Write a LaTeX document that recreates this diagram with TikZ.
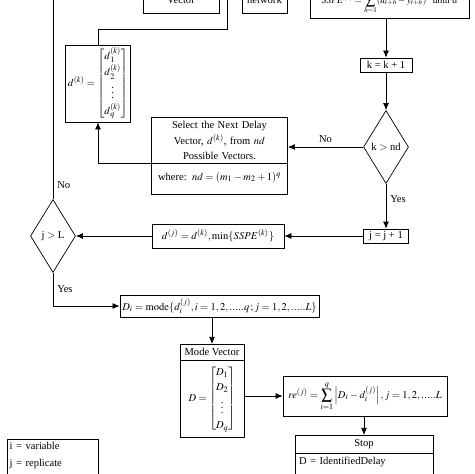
\documentclass[tikz,border=0pt]{standalone}
\usepackage{amsmath}
\usepackage{amssymb}
\usepackage{mathptmx}
\usepackage{fontspec}
\setmainfont{Liberation Serif}
\usetikzlibrary{shapes.geometric,shapes.multipart,arrows.meta}
\tikzset{
    flow-box/.style = {draw, rectangle, inner sep=2pt, align=center, font=\small},
    flow-test/.style = {draw, diamond, inner sep=0pt, minimum width=1.35cm, minimum height=2.19cm, font=\small},
    flow-split/.style = {draw, rectangle split, rectangle split parts=2, align=center, font=\small},
    flow-arrow/.style = {-{Latex[length=6pt,width=5pt]}},
}

\begin{document}
\begin{tikzpicture}[x=0.03cm, y=-0.03cm, semithick]
\useasboundingbox (0,0) rectangle (474,474);
\clip (0,0) rectangle (474,474);

% top row (cut off)
\node[flow-box, minimum width=2.28cm, text height=1cm, text depth=0.25cm, anchor=base] (vec) at (181,3) {Vector};
\node[flow-box, minimum width=1.35cm, text height=1cm, text depth=0.25cm, anchor=base] (net) at (264.5,3) {network};
\node[flow-box, minimum width=4.77cm, text height=1cm, text depth=0.4cm, anchor=base, font=\footnotesize] (sspe) at (389.5,3) {$SSPE^{(k)}=\displaystyle\sum_{h=1}^{N}(d_{t+h}-y_{t+h})^2$ until d};
\coordinate (loop-in) at (227,-5);
\coordinate (loop-back) at (53,-5);

% delay vector loop
\node[flow-box, minimum width=1.86cm, minimum height=2.07cm] (dk) at (98,83.5) {\renewcommand{\arraystretch}{1.25}$\boldsymbol{d}^{(k)}=\begin{bmatrix}\boldsymbol{d}_1^{(k)}\\ \boldsymbol{d}_2^{(k)}\\ \vdots\\ \boldsymbol{d}_q^{(k)}\end{bmatrix}$};
\node[flow-box, minimum width=1.56cm, minimum height=0.42cm] (kinc) at (386,65) {k = k + 1};
\node[flow-test] (kgt) at (386,147) {k $>$ nd};
\node[flow-split, text width=3.85cm, anchor=north] (sel) at (219.5,117) {Select the Next Delay\\[2pt] Vector, $d^{(k)}$, from $nd$\\[2pt] Possible Vectors.
    \nodepart{two}\raisebox{0pt}[0.36cm][0.3cm]{where: $nd=(m_1-m_2+1)^q$}};

% replicate loop
\node[flow-box, minimum width=1.35cm, minimum height=0.39cm] (jinc) at (386,236) {j = j + 1};
\node[flow-box, minimum width=3.96cm, minimum height=0.72cm] (djbox) at (218,236) {$d^{(j)}=d^{(k)},\min\{SSPE^{(k)}\}$};
\node[flow-test] (jgt) at (53,236) {j $>$ L};

% mode and stop
\node[flow-box, minimum width=5.91cm, minimum height=0.66cm] (Di) at (219.5,306) {$D_i=\mathrm{mode}\{d_i^{(j)}, i=1,2,.....q\,; j=1,2,.....L\}$};
\node[flow-split, minimum width=1.92cm, anchor=north] (mode) at (212,344) {Mode Vector
    \nodepart{two}\renewcommand{\arraystretch}{1.2}$D=\begin{bmatrix}D_1\\ D_2\\ \vdots\\ D_q\end{bmatrix}$};
\node[flow-box, minimum width=4.92cm, minimum height=1.2cm] (re) at (365,396) {$re^{(j)}=\displaystyle\sum_{i=1}^{q}\left|D_i-d_i^{(j)}\right|, j=1,2,.....L$};
\node[flow-split, text width=3.9cm, anchor=north] (stop) at (364,435) {Stop
    \nodepart{two}\makebox[3.9cm][l]{D = IdentifiedDelay}\rule[-1.5cm]{0pt}{0pt}};
\node[flow-box, align=left, text width=2.6cm, anchor=north west] (key) at (7,439) {i = variable\\[4pt] j = replicate\rule[-1cm]{0pt}{0pt}};

% connectors
\draw (loop-in) -- ++(0,34) -| (dk.north);
\draw[flow-arrow] (sspe.south -| kinc.north) -- (kinc.north);
\draw[flow-arrow] (kinc) -- (kgt);
\draw[flow-arrow] (kgt) -- node[above, font=\small]{No} (kgt -| sel.east);
\draw[flow-arrow] (sel.text split west) -| (dk.south);
\draw[flow-arrow] (kgt) -- node[right, pos=0.35, font=\small]{Yes} (jinc);
\draw[flow-arrow] (jinc) -- (djbox);
\draw[flow-arrow] (djbox) -- (jgt);
\draw (jgt.north) -- node[right, pos=0.07, font=\small]{No} (loop-back);
\draw[flow-arrow] (jgt.south) |- node[right, pos=0.25, font=\small]{Yes} (Di.west);
\draw[flow-arrow] (Di.south -| mode.north) -- (mode.north);
\draw[flow-arrow] (re.west -| mode.east) -- (re.west);
\draw[flow-arrow] (re.south -| stop.north) -- (stop.north);
\end{tikzpicture}
\end{document}
